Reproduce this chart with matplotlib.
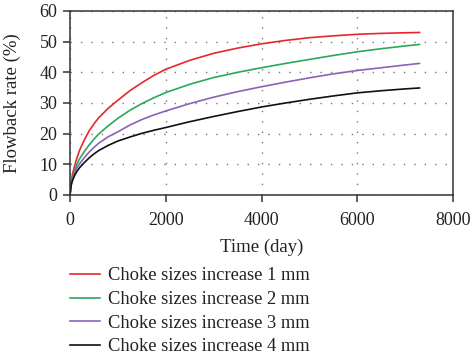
import matplotlib
matplotlib.use("Agg")
import matplotlib.pyplot as plt

plt.rcParams['font.family'] = ['Liberation Serif', 'DejaVu Serif']

time_days = [0, 25, 50, 100, 150, 200, 300, 400, 500, 600, 800, 1000, 1250, 1500,
             1750, 2000, 2500, 3000, 3500, 4000, 4500, 5000, 5500, 6000, 6500, 7000, 7300]
rate_1mm = [0, 4.5, 6.6, 9.7, 12.3, 14.6, 18.0, 20.9, 23.2, 25.2, 28.3, 30.9, 34.0, 36.6,
            39.0, 41.0, 43.9, 46.2, 47.9, 49.3, 50.4, 51.3, 51.9, 52.4, 52.7, 52.9, 53.0]
rate_2mm = [0, 3.8, 5.5, 8.0, 10.2, 11.8, 14.2, 16.3, 18.2, 19.9, 22.6, 25.0, 27.6, 29.8,
            31.7, 33.4, 36.1, 38.3, 40.0, 41.5, 42.9, 44.2, 45.5, 46.7, 47.7, 48.6, 49.1]
rate_3mm = [0, 3.4, 4.9, 7.3, 9.0, 10.2, 12.2, 14.0, 15.5, 16.9, 19.0, 20.6, 22.8, 24.6,
            26.1, 27.4, 29.8, 31.9, 33.7, 35.3, 36.8, 38.2, 39.5, 40.6, 41.5, 42.4, 42.9]
rate_4mm = [0, 3.2, 4.6, 6.5, 7.8, 8.9, 10.6, 12.1, 13.4, 14.5, 16.2, 17.6, 18.9, 20.1,
            21.1, 22.0, 23.9, 25.6, 27.2, 28.7, 30.0, 31.2, 32.3, 33.3, 34.0, 34.6, 34.9]

series = [rate_1mm, rate_2mm, rate_3mm, rate_4mm]
labels = ["Choke sizes increase 1 mm", "Choke sizes increase 2 mm",
          "Choke sizes increase 3 mm", "Choke sizes increase 4 mm"]
colors = ["#e8262e", "#2aa85c", "#8a63b8", "#111111"]

x_ticks = [0, 2000, 4000, 6000, 8000]
y_ticks = [0, 10, 20, 30, 40, 50, 60]

fig = plt.figure(figsize=(4.74, 3.56), dpi=100)
ax = fig.add_axes([70/474, 1-195/356, (453-70)/474, (195-11)/356])

handles = []
for s, lab, c in zip(series, labels, colors):
    h, = ax.plot(time_days, s, color=c, lw=1.2, label=lab)
    handles.append(h)

ax.set_xlim(0, 8000)
ax.set_ylim(0, 60)
ax.set_xticks(x_ticks)
ax.set_yticks(y_ticks)
ax.grid(True, color="#777777", linestyle=(0, (1, 6.5)), linewidth=1.0)
for sp in ax.spines.values():
    sp.set_color("#333333")
    sp.set_linewidth(1.1)
ax.tick_params(direction="out", length=5, width=1.1, color="#333333",
               labelsize=13, pad=4, labelcolor="#222222")
ax.tick_params(axis="x", pad=7)
ax.set_xlabel("Time (day)", fontsize=13.5, labelpad=7, color="#222222")
ax.set_ylabel("Flowback rate (%)", fontsize=13.5, labelpad=13, color="#222222")

fig.legend(handles=handles, labels=labels, loc="upper left",
           bbox_to_anchor=(63/474, 1-260/356), frameon=False, fontsize=13.3,
           handlelength=1.6, handletextpad=0.45, labelspacing=0.36, borderaxespad=0,
           labelcolor="#222222")

fig.savefig("out.png", dpi=100)
